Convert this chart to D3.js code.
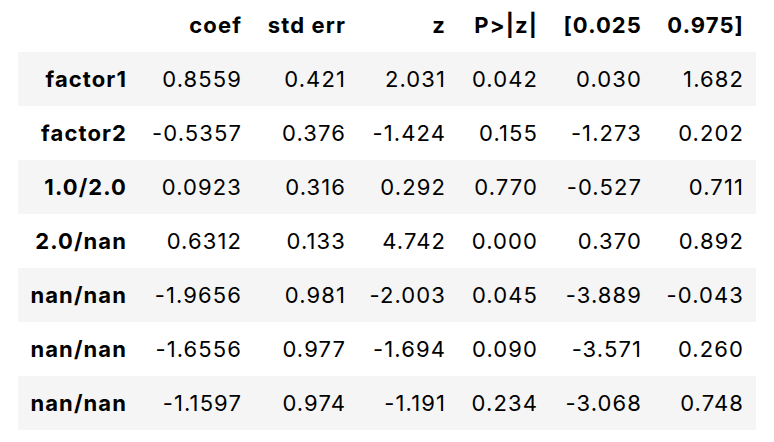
<!DOCTYPE html>
<html><head><meta charset="utf-8">
<script src="https://cdn.jsdelivr.net/npm/d3@7"></script>
<style>body{margin:0;background:#fff}</style></head>
<body><svg id="c" width="774" height="442"></svg>
<script>
const columns = ["coef","std err","z","P>|z|","[0.025","0.975]"];
const rowLabels = ["factor1","factor2","1.0/2.0","2.0/nan","nan/nan","nan/nan","nan/nan"];
const coef = ["0.8559","-0.5357","0.0923","0.6312","-1.9656","-1.6556","-1.1597"];
const stdErr = ["0.421","0.376","0.316","0.133","0.981","0.977","0.974"];
const zVals = ["2.031","-1.424","0.292","4.742","-2.003","-1.694","-1.191"];
const pVals = ["0.042","0.155","0.770","0.000","0.045","0.090","0.234"];
const lo = ["0.030","-1.273","-0.527","0.370","-3.889","-3.571","-3.068"];
const hi = ["1.682","0.202","0.711","0.892","-0.043","0.260","0.748"];
const series = [coef, stdErr, zVals, pVals, lo, hi];

const svg = d3.select("#c");
const font = "Inter, 'Noto Sans', sans-serif";
const colRight = [241,345,445,537,641,743];
const y = d3.scaleBand().domain(d3.range(rowLabels.length)).range([52,430]);
function style(sel, bold){
  sel.attr("font-family",font).attr("font-size",22).attr("letter-spacing","1.1px")
    .attr("font-weight",bold?"bold":"normal").attr("fill","#000").attr("text-anchor","end");
}
svg.selectAll("rect.s").data(rowLabels).join("rect")
  .attr("x",18).attr("width",738).attr("y",(d,i)=>y(i)).attr("height",y.bandwidth())
  .attr("fill",(d,i)=>i%2===0?"#f5f5f5":"#fff");
svg.selectAll("text.h").data(columns).join("text")
  .attr("x",(d,i)=>colRight[i]+1).attr("y",33).text(d=>d).call(style,true);
svg.selectAll("text.r").data(rowLabels).join("text")
  .attr("x",127).attr("y",(d,i)=>y(i)+y.bandwidth()/2).attr("dy","0.36em").text(d=>d).call(style,true);
series.forEach((s,c)=>{
  svg.append("g").selectAll("text").data(s).join("text")
    .attr("x",colRight[c]+1).attr("y",(d,i)=>y(i)+y.bandwidth()/2).attr("dy","0.36em").text(d=>d).call(style,false);
});
</script></body></html>
